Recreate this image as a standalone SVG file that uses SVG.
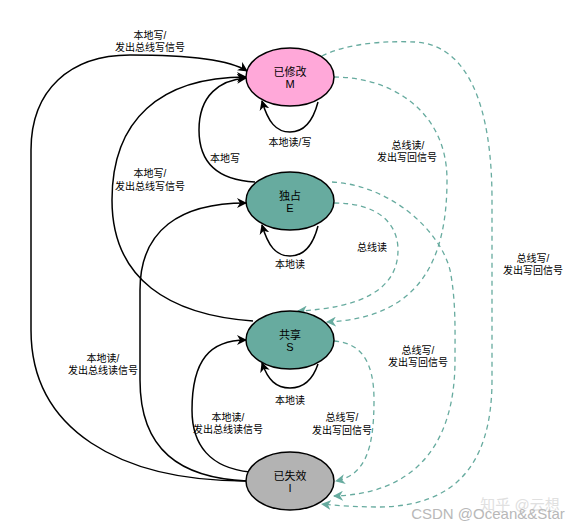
<svg xmlns="http://www.w3.org/2000/svg" width="581" height="531" viewBox="0 0 581 531">
<defs>
<marker id="ab" viewBox="0 0 10 10" refX="9" refY="5" markerWidth="10" markerHeight="10" markerUnits="userSpaceOnUse" orient="auto">
<path d="M0,0 L10,5 L0,10 L3,5 Z" fill="#000"/>
</marker>
<marker id="ag" viewBox="0 0 10 10" refX="9" refY="5" markerWidth="10" markerHeight="10" markerUnits="userSpaceOnUse" orient="auto">
<path d="M0,0 L10,5 L0,10 L3,5 Z" fill="#67AB9F"/>
</marker>
</defs>
<style>
.n{stroke:#000;stroke-width:1.5}
.t{font-family:"Liberation Sans","Noto Sans CJK SC",sans-serif;font-size:11px;fill:#000;text-anchor:middle}
.l{font-family:"Liberation Sans","Noto Sans CJK SC",sans-serif;font-size:10px;fill:#000;text-anchor:middle}
.s{fill:none;stroke:#000;stroke-width:1.5;marker-end:url(#ab)}
.d{fill:none;stroke:#67AB9F;stroke-width:1.3;stroke-dasharray:5 4;marker-end:url(#ag)}
.w{font-family:"Liberation Sans","Noto Sans CJK SC",sans-serif;font-size:15px}
</style>
<rect width="581" height="531" fill="#fff"/>
<g id="connectors">
<path class="s" d="M246 481 C120 481 31 430 31 330 L31 150 C31 90 70 55 130 55 C190 55 230 60 247 71"/>
<path class="s" d="M253 321 C170 315 112 280 112 200 C112 120 160 77 246 77"/>
<path class="s" d="M255 182 C215 180 199 160 199 130 C199 95 220 80 246 78"/>
<path class="s" d="M247 481 C180 478 140 450 140 380 L140 290 C140 230 180 203 246 203"/>
<path class="s" d="M250 472 C210 468 192 445 192 410 C192 360 210 340 246 340"/>
<path class="s" d="M318 102 C312 125 302 132 290 132 C276 132 268 122 262 101"/>
<path class="s" d="M318 226 C312 249 302 256 290 256 C276 256 268 246 262 225"/>
<path class="s" d="M318 364 C312 382 302 388 290 388 C276 388 268 380 262 363"/>
<path class="d" d="M322 56 C350 42 390 41 415 42 C470 45 492 110 492 200 L492 380 C492 470 450 506 380 507 C360 507 340 506 322 504"/>
<path class="d" d="M334 77 C390 77 447 110 447 180 C447 260 420 318 327 322"/>
<path class="d" d="M332 182 C390 185 440 230 450 270 C456 300 455 330 455 360 C455 450 410 494 334 496"/>
<path class="d" d="M334 203 C380 203 398 225 398 250 C398 290 360 308 298 311"/>
<path class="d" d="M334 341 C360 343 374 360 374 400 C374 450 365 475 336 481"/>
</g>
<g id="labels">
<text class="l" x="150" y="39">本地写/</text>
<text class="l" x="150" y="51">发出总线写信号</text>
<text class="l" x="225" y="162">本地写</text>
<text class="l" x="150" y="177">本地写/</text>
<text class="l" x="150" y="190">发出总线写信号</text>
<text class="l" x="103" y="362">本地读/</text>
<text class="l" x="103" y="374">发出总线读信号</text>
<text class="l" x="228" y="421">本地读/</text>
<text class="l" x="228" y="433">发出总线读信号</text>
<text class="l" x="290" y="146">本地读/写</text>
<text class="l" x="290" y="268">本地读</text>
<text class="l" x="290" y="404">本地读</text>
<text class="l" x="408" y="149">总线读/</text>
<text class="l" x="407" y="161">发出写回信号</text>
<text class="l" x="372" y="251">总线读</text>
<text class="l" x="533" y="262">总线写/</text>
<text class="l" x="533" y="274">发出写回信号</text>
<text class="l" x="418" y="354">总线写/</text>
<text class="l" x="418" y="366">发出写回信号</text>
<text class="l" x="342" y="421">总线写/</text>
<text class="l" x="342" y="434">发出写回信号</text>
</g>
<g id="node-M">
<ellipse class="n" cx="290" cy="77" rx="44" ry="29" fill="#FFA8D9"/>
<text class="t" x="290" y="76">已修改</text>
<text class="t" x="290" y="88">M</text>
</g>
<g id="node-E">
<ellipse class="n" cx="290" cy="201" rx="44" ry="29" fill="#67AB9F"/>
<text class="t" x="290" y="200">独占</text>
<text class="t" x="290" y="212">E</text>
</g>
<g id="node-S">
<ellipse class="n" cx="290" cy="340" rx="44" ry="29" fill="#67AB9F"/>
<text class="t" x="290" y="339">共享</text>
<text class="t" x="290" y="351">S</text>
</g>
<g id="node-I">
<ellipse class="n" cx="290" cy="481" rx="44" ry="29" fill="#B3B3B3"/>
<text class="t" x="290" y="480">已失效</text>
<text class="t" x="290" y="492">I</text>
</g>
<g id="watermark">
<text class="w" x="520" y="510" fill="#e0e0e0" text-anchor="middle">知乎 @云想</text>
<text class="w" x="488" y="519" fill="#b8b8b8" text-anchor="middle">CSDN @Ocean&amp;&amp;Star</text>
</g>
</svg>
